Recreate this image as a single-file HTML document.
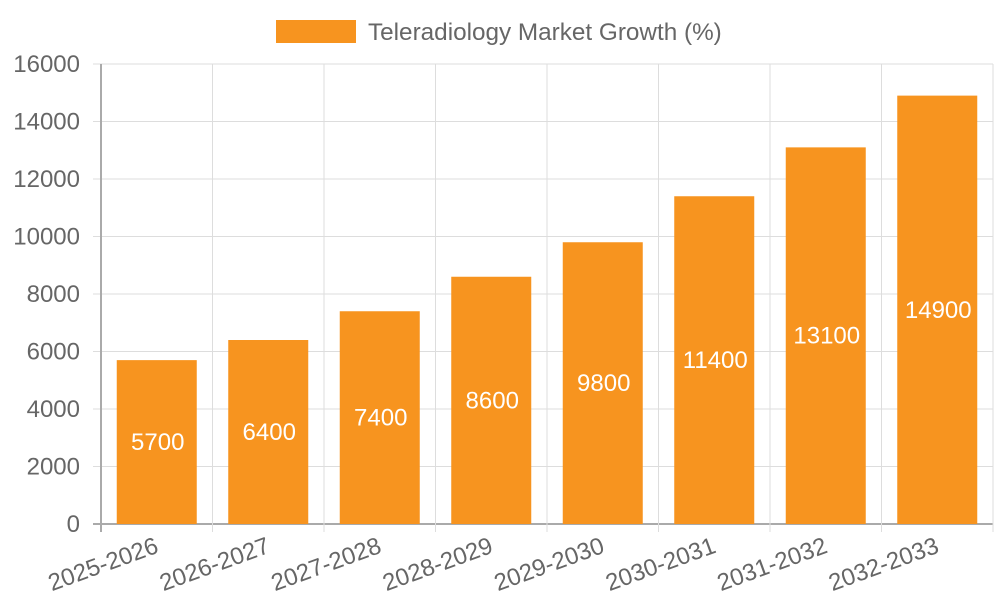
<!DOCTYPE html>
<html><head><meta charset="utf-8"><style>
body{margin:0;background:#fff;}
svg{font-family:"Liberation Sans",sans-serif;}
</style></head><body>
<svg id="chart" width="1000" height="600"></svg>
<script>
const categories=["2025-2026","2026-2027","2027-2028","2028-2029","2029-2030","2030-2031","2031-2032","2032-2033"];
const values=[5700,6400,7400,8600,9800,11400,13100,14900];
const yTicks=[0,2000,4000,6000,8000,10000,12000,14000,16000];
const NS="http://www.w3.org/2000/svg";
const svg=document.getElementById('chart');
const L=101,R=993,T=64,B=524,yMax=16000;
const bw=(R-L)/categories.length;
const y=v=>B-(v/yMax)*(B-T);
const x=i=>L+bw*i;
function el(t,a,p){const e=document.createElementNS(NS,t);for(const k in a)e.setAttribute(k,a[k]);(p||svg).appendChild(e);return e;}
const grid=el('g',{});


yTicks.forEach(v=>{
  el('line',{x1:L-8,x2:R,y1:y(v),y2:y(v),stroke:v===0?'#aaa':'#ddd','stroke-width':v===0?2:1},grid);
  const t=el('text',{x:L-21,y:y(v)+8,'text-anchor':'end','font-size':24,fill:'#666'});
  
  
  t.textContent=v;
});
for(let i=0;i<=categories.length;i++){
  el('line',{x1:x(i),x2:x(i),y1:T,y2:B+8,stroke:i===0?'#aaa':'#ddd','stroke-width':i===0?2:1},grid);
}
categories.forEach((c,i)=>{
  const cx=x(i)+bw/2;
  const r=el('rect',{x:cx-40,y:y(values[i]),width:80,height:B-y(values[i]),fill:'#f7941f'});
  
  
  const vt=el('text',{x:cx+1,y:(y(values[i])+B)/2+8,'text-anchor':'middle','font-size':24,fill:'#fff'});
  
  
  vt.textContent=values[i];
  const ax=cx+3, ay=552;
  const lt=el('text',{x:ax,y:ay,'text-anchor':'end','font-size':24,fill:'#666',transform:`rotate(-20 ${ax} ${ay})`});
  
  
  lt.textContent=c;
});
const lg=el('rect',{x:276,y:20,width:80,height:23,fill:'#f7941f'});


const lt=el('text',{x:368,y:40,'font-size':24.3,fill:'#666'});


lt.textContent='Teleradiology Market Growth (%)';
</script>
</body></html>
